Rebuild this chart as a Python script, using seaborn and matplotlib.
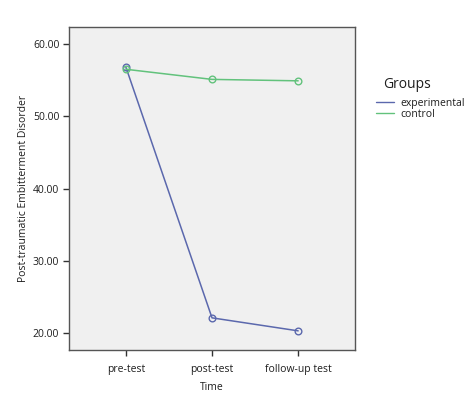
import numpy as np
import pandas as pd
import matplotlib
matplotlib.use("Agg")
import matplotlib.pyplot as plt
import seaborn as sns
from matplotlib.lines import Line2D

times = ["pre-test", "post-test", "follow-up test"]
experimental = [56.8, 22.1, 20.3]
control = [56.5, 55.1, 54.9]
groups = ["experimental", "control"]
yticks = [20, 30, 40, 50, 60]

df = pd.DataFrame({
    "Time": times * 2,
    "pos": list(range(len(times))) * 2,
    "value": experimental + control,
    "Groups": [groups[0]] * 3 + [groups[1]] * 3,
})

sns.set_style("white")
plt.rcParams['font.family'] = ['Open Sans', 'DejaVu Sans']
txt = "#1e1e1e"

fig = plt.figure(figsize=(4.74, 3.93), dpi=100)
ax = fig.add_axes([0.1456, 0.1094, 0.6034, 0.8219])
palette = {"experimental": "#5b68ad", "control": "#62c27c"}
sns.lineplot(data=df, x="pos", y="value", hue="Groups", palette=palette,
             marker="o", markersize=4.8, markerfacecolor="none",
             markeredgewidth=1.0, linewidth=1.1, ax=ax, legend=False)
for line, g in zip(ax.lines, groups):
    line.set_markeredgecolor(palette[g])

ax.set_facecolor("#f0f0f0")
ax.set_xlim(-0.66, 2.66)
ax.set_ylim(17.65, 62.35)
ax.set_xticks(range(len(times)))
ax.set_xticklabels(times, fontsize=7.5, color=txt)
ax.set_yticks(yticks)
ax.set_yticklabels([f"{v:.2f}" for v in yticks], fontsize=7.5, color=txt)
ax.tick_params(axis="both", direction="out", length=4, width=1, color="#333333", bottom=True, left=True)
ax.tick_params(axis="x", pad=6)
ax.tick_params(axis="y", pad=3)
for s in ax.spines.values():
    s.set_color("#555555")
    s.set_linewidth(1.0)
ax.set_xlabel("Time", fontsize=7.5, labelpad=5, color=txt)
ax.set_ylabel("Post-traumatic Embitterment Disorder", fontsize=7.5, labelpad=3, color=txt)

fig.text(383 / 474, 1 - 85 / 393, "Groups", fontsize=10, va="center", ha="left", color=txt)
handles = [Line2D([0], [0], color=palette[g], lw=1.0) for g in groups]
leg = fig.legend(handles, groups, loc="upper left",
                 bbox_to_anchor=(376 / 474, 1 - 98 / 393), frameon=False, fontsize=7.5,
                 handlelength=1.7, handletextpad=0.6,
                 labelspacing=0.0, borderpad=0, borderaxespad=0)
for t in leg.get_texts():
    t.set_color(txt)

fig.savefig("out.png", dpi=100, facecolor="white")
